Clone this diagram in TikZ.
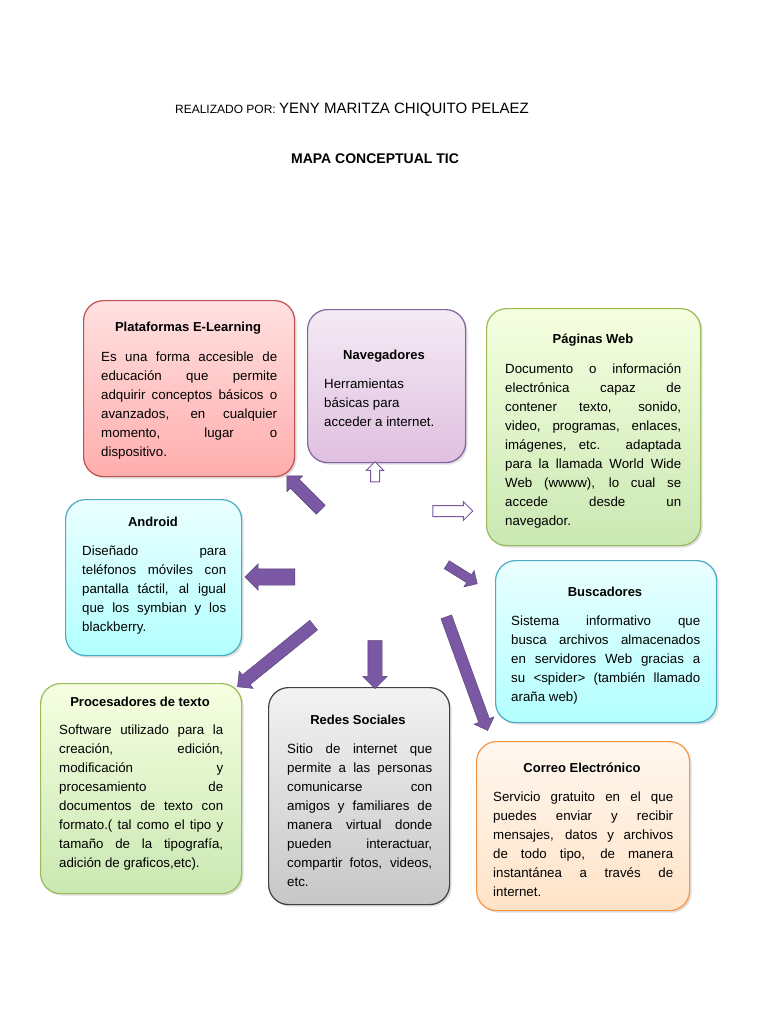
\documentclass[tikz,border=0pt]{standalone}
\usepackage{fontspec}
\setmainfont{Liberation Sans}
\usetikzlibrary{shapes.arrows,shadows}
\definecolor{arr}{HTML}{7A58A4}
\definecolor{bred}{HTML}{C0504D}
\definecolor{bvio}{HTML}{8064A2}
\definecolor{bgre}{HTML}{9BBB59}
\definecolor{bcya}{HTML}{4BACC6}
\definecolor{bgra}{HTML}{404040}
\definecolor{bora}{HTML}{F79646}
\newcommand\jl[2]{\makebox[#1][s]{#2}\\}
\tikzset{
 box/.style={draw=#1,line width=1.2pt,rounded corners=20pt,anchor=north west,inner sep=0pt,drop shadow={opacity=0.25,shadow xshift=2pt,shadow yshift=-2pt}},
 ttl/.style={font=\fontsize{13}{16}\selectfont\bfseries},
 body/.style={anchor=north west,inner sep=0pt,align=left,font=\fontsize{13.3}{19}\selectfont},
 barr/.style={single arrow,fill=arr,draw=arr!70!black,inner xsep=0pt,inner ysep=#1,single arrow head extend=5pt},
 oarr/.style={single arrow,fill=white,draw=arr,line width=1pt,inner xsep=0pt,inner ysep=#1,single arrow head extend=4pt}
}
\begin{document}
\begin{tikzpicture}[x=1pt,y=-1pt]
\useasboundingbox[fill=white] (0,0) rectangle (768,1024);
\node (real) at (352,110) {\fontsize{12}{14}\selectfont REALIZADO POR: \fontsize{15}{17}\selectfont YENY MARITZA CHIQUITO PELAEZ};
\node[font=\fontsize{14}{16}\selectfont\bfseries] (tit) at (375,159) {MAPA CONCEPTUAL TIC};
% boxes
\node[box=bred,top color=red!12,bottom color=red!32,minimum width=211,minimum height=176] (b1) at (83,300) {};
\node[box=bvio,top color=violet!8,bottom color=violet!25,minimum width=158,minimum height=153] (b2) at (307,309) {};
\node[box=bgre,top color=green!30!yellow!12,bottom color=green!40!olive!30,minimum width=214,minimum height=237] (b3) at (486,308) {};
\node[box=bcya,top color=cyan!8,bottom color=cyan!30,minimum width=176,minimum height=156] (b4) at (65,499) {};
\node[box=bcya,top color=cyan!8,bottom color=cyan!30,minimum width=221,minimum height=162] (b5) at (495,560) {};
\node[box=bgre,top color=green!30!yellow!12,bottom color=green!40!olive!30,minimum width=201,minimum height=210] (b6) at (40,683) {};
\node[box=bgra,top color=black!5,bottom color=black!22,minimum width=181,minimum height=217] (b7) at (268,687) {};
\node[box=bora,top color=orange!6,bottom color=orange!22,minimum width=213,minimum height=169] (b8) at (476,741) {};
% titles
\node[ttl] (t1) at (188,328) {Plataformas E-Learning};
\node[ttl] (t2) at (384,356) {Navegadores};
\node[ttl] (t3) at (593,340) {Páginas Web};
\node[ttl] (t4) at (153,522) {Android};
\node[ttl] (t5) at (605,592) {Buscadores};
\node[ttl] (t6) at (140,702) {Procesadores de texto};
\node[ttl] (t7) at (358,720) {Redes Sociales};
\node[ttl] (t8) at (582,768) {Correo Electrónico};
% bodies
\node[body] (p1) at (101,352) {\jl{176pt}{Es una forma accesible de}\jl{176pt}{educación que permite}\jl{176pt}{adquirir conceptos básicos o}\jl{176pt}{avanzados, en cualquier}\jl{176pt}{momento, lugar o}dispositivo.};
\node[body] (p2) at (324,379) {Herramientas\\básicas para\\acceder a internet.};
\node[body] (p3) at (505,364) {\jl{176pt}{Documento o información}\jl{176pt}{electrónica capaz de}\jl{176pt}{contener texto, sonido,}\jl{176pt}{video, programas, enlaces,}\jl{176pt}{imágenes, etc. adaptada}\jl{176pt}{para la llamada World Wide}\jl{176pt}{Web (wwww), lo cual se}\jl{176pt}{accede desde un}navegador.};
\node[body] (p4) at (82,546) {\jl{144pt}{Diseñado para}\jl{144pt}{teléfonos móviles con}\jl{144pt}{pantalla táctil, al igual}\jl{144pt}{que los symbian y los}blackberry.};
\node[body] (p5) at (511,616) {\jl{189pt}{Sistema informativo que}\jl{189pt}{busca archivos almacenados}\jl{189pt}{en servidores Web gracias a}\jl{189pt}{su <spider> (también llamado}araña web)};
\node[body] (p6) at (59,725) {\jl{164pt}{Software utilizado para la}\jl{164pt}{creación, edición,}\jl{164pt}{modificación y}\jl{164pt}{procesamiento de}\jl{164pt}{documentos de texto con}\jl{164pt}{formato.( tal como el tipo y}\jl{164pt}{tamaño de la tipografía,}adición de graficos,etc).};
\node[body] (p7) at (287,744) {\jl{145pt}{Sitio de internet que}\jl{145pt}{permite a las personas}\jl{145pt}{comunicarse con}\jl{145pt}{amigos y familiares de}\jl{145pt}{manera virtual donde}\jl{145pt}{pueden interactuar,}\jl{145pt}{compartir fotos, videos,}etc.};
\node[body] (p8) at (493,792) {\jl{180pt}{Servicio gratuito en el que}\jl{180pt}{puedes enviar y recibir}\jl{180pt}{mensajes, datos y archivos}\jl{180pt}{de todo tipo, de manera}\jl{180pt}{instantánea a través de}internet.};
% arrows
\node[barr=6pt,minimum height=48pt,rotate=135] (a1) at (306,495) {};
\node[oarr=4pt,minimum height=20pt,rotate=90] (a2) at (375,474) {};
\node[oarr=5pt,minimum height=40pt] (a3) at (450,511) {};
\node[barr=8pt,minimum height=50pt,rotate=180] (a4) at (274,577) {};
\node[barr=4.5pt,minimum height=36pt,rotate=-32] (a5) at (460,573) {};
\node[barr=6pt,minimum height=98pt,rotate=219] (a6) at (278,654) {};
\node[barr=7pt,minimum height=48pt,rotate=-90] (a7) at (375,661) {};
\node[barr=5.5pt,minimum height=121pt,rotate=-70] (a8) at (466,671) {};
\end{tikzpicture}
\end{document}
